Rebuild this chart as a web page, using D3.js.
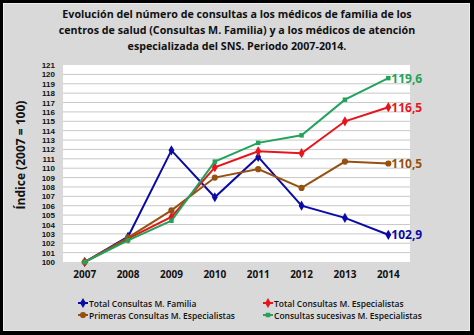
<!DOCTYPE html>
<html>
<head>
<meta charset="utf-8">
<script src="https://cdn.jsdelivr.net/npm/d3@7"></script>
<style>
  body { margin: 0; background: #000; }
  svg { display: block; font-family: "Open Sans", sans-serif; }
</style>
</head>
<body>
<div id="chart"></div>
<script>
const years = ["2007", "2008", "2009", "2010", "2011", "2012", "2013", "2014"];
const yTicks = d3.range(100, 122);

const familia = [100, 102.7, 111.9, 106.9, 111.2, 106.0, 104.7, 102.9];
const especialistas = [100, 102.5, 104.8, 110.1, 111.8, 111.6, 115.0, 116.5];
const primeras = [100, 102.6, 105.5, 109.0, 109.9, 107.9, 110.7, 110.5];
const sucesivas = [100, 102.3, 104.4, 110.7, 112.7, 113.5, 117.3, 119.6];

const seriesNames = [
    "Total Consultas M. Familia",
    "Total Consultas M. Especialistas",
    "Primeras Consultas M. Especialistas",
    "Consultas sucesivas M. Especialistas"
];
const endLabels = ["102,9", "116,5", "110,5", "119,6"];

const series = [
    { name: seriesNames[0], values: familia, color: "#0a0aa8", symbol: d3.symbolDiamond, size: 30, label: endLabels[0] },
    { name: seriesNames[1], values: especialistas, color: "#e8141c", symbol: d3.symbolDiamond, size: 30, label: endLabels[1] },
    { name: seriesNames[2], values: primeras, color: "#96500f", symbol: d3.symbolCircle, size: 30, label: endLabels[2] },
    { name: seriesNames[3], values: sucesivas, color: "#22a25a", symbol: d3.symbolSquare, size: 20, label: endLabels[3] }
];

const W = 474, H = 335;
const plot = { left: 63, right: 410, top: 65, bottom: 262 };

const svg = d3.select("#chart").append("svg")
    .attr("width", W)
    .attr("height", H);

// frame
svg.append("rect").attr("width", W).attr("height", H).attr("fill", "#000");
svg.append("rect")
    .attr("x", 3.5).attr("y", 3.5)
    .attr("width", 466).attr("height", 327)
    .attr("fill", "#d9d9d9")
    .attr("stroke", "#eeeeee");

// title
const titleLines = [
    "Evolución del número de consultas a los médicos de familia de los",
    "centros de salud (Consultas M. Familia) y a los médicos de atención",
    "especializada del SNS. Periodo 2007-2014."
];
svg.append("g").selectAll("text")
    .data(titleLines)
    .enter().append("text")
    .attr("x", 237)
    .attr("y", (d, i) => 18 + i * 16)
    .attr("text-anchor", "middle")
    .style("font-size", "10.7px")
    .style("font-weight", "bold")
    .style("fill", "#111")
    .text(d => d);

// scales
const xScale = d3.scaleBand()
    .domain(years)
    .range([plot.left, plot.right]);

const yScale = d3.scaleLinear()
    .domain([100, 121])
    .range([plot.bottom, plot.top]);

// plot background
svg.append("rect")
    .attr("x", plot.left).attr("y", plot.top)
    .attr("width", plot.right - plot.left)
    .attr("height", plot.bottom - plot.top)
    .attr("fill", "#fff");

// gridlines
svg.append("g").selectAll("line")
    .data(yTicks.slice(1, -1))
    .enter().append("line")
    .attr("x1", plot.left).attr("x2", plot.right)
    .attr("y1", d => yScale(d)).attr("y2", d => yScale(d))
    .attr("stroke", "#c8c8c8")
    .attr("stroke-width", 1);

// y axis
const yAxis = svg.append("g")
    .attr("transform", `translate(${plot.left - 7}, 0)`)
    .call(d3.axisLeft(yScale).tickValues(yTicks).tickSize(0).tickPadding(1));
yAxis.select(".domain").remove();
yAxis.selectAll("text")
    .style("font-size", "8px")
    .style("font-weight", "bold")
    .style("font-family", "'Liberation Sans', Arial, sans-serif")
    .attr("fill", "#111");

svg.append("text")
    .attr("transform", "rotate(-90)")
    .attr("x", -155)
    .attr("y", 25)
    .attr("text-anchor", "middle")
    .style("font-size", "12px")
    .style("font-weight", "bold")
    .style("fill", "#111")
    .text("Índice (2007 = 100)");

// x axis
const xAxis = svg.append("g")
    .attr("transform", `translate(0, ${plot.bottom})`)
    .call(d3.axisBottom(xScale).tickSize(0).tickPadding(9));
xAxis.select(".domain").remove();
xAxis.selectAll("text")
    .style("font-size", "10px")
    .style("font-weight", "bold")
    .style("font-family", "'Open Sans', sans-serif")
    .attr("fill", "#111");

// lines
const line = d3.line()
    .x((d, i) => xScale(years[i]) + xScale.bandwidth() / 2)
    .y(d => yScale(d));

series.forEach(s => {
    const g = svg.append("g");
    g.append("path")
        .datum(s.values)
        .attr("d", line)
        .attr("fill", "none")
        .attr("stroke", s.color)
        .attr("stroke-width", 2);
    g.selectAll("path.marker")
        .data(s.values)
        .enter().append("path")
        .attr("class", "marker")
        .attr("d", d3.symbol().type(s.symbol).size(s.size))
        .attr("transform", (d, i) => `translate(${xScale(years[i]) + xScale.bandwidth() / 2}, ${yScale(d)})`)
        .attr("fill", s.color);
    g.append("text")
        .attr("x", xScale(years[years.length - 1]) + xScale.bandwidth() / 2 + 3)
        .attr("y", yScale(s.values[s.values.length - 1]) + 4.5)
        .style("font-size", "12px")
        .style("font-weight", "bold")
        .style("fill", s.color)
        .text(s.label);
});

// legend
const legendPos = [[78, 303], [263, 303], [78, 315], [263, 315]];
const legend = svg.selectAll(".legend")
    .data(series)
    .enter().append("g")
    .attr("class", "legend")
    .attr("transform", (d, i) => `translate(${legendPos[i][0]}, ${legendPos[i][1]})`);

legend.append("line")
    .attr("x1", 0).attr("x2", 10)
    .attr("stroke", d => d.color)
    .attr("stroke-width", 2);
legend.append("path")
    .attr("d", d => d3.symbol().type(d.symbol).size(d.size)())
    .attr("transform", "translate(5,0)")
    .attr("fill", d => d.color);
legend.append("text")
    .attr("x", 11)
    .attr("y", 3.5)
    .style("font-size", "8.5px")
    .style("font-weight", "600")
    .style("fill", "#111")
    .text(d => d.name);
</script>
</body>
</html>
